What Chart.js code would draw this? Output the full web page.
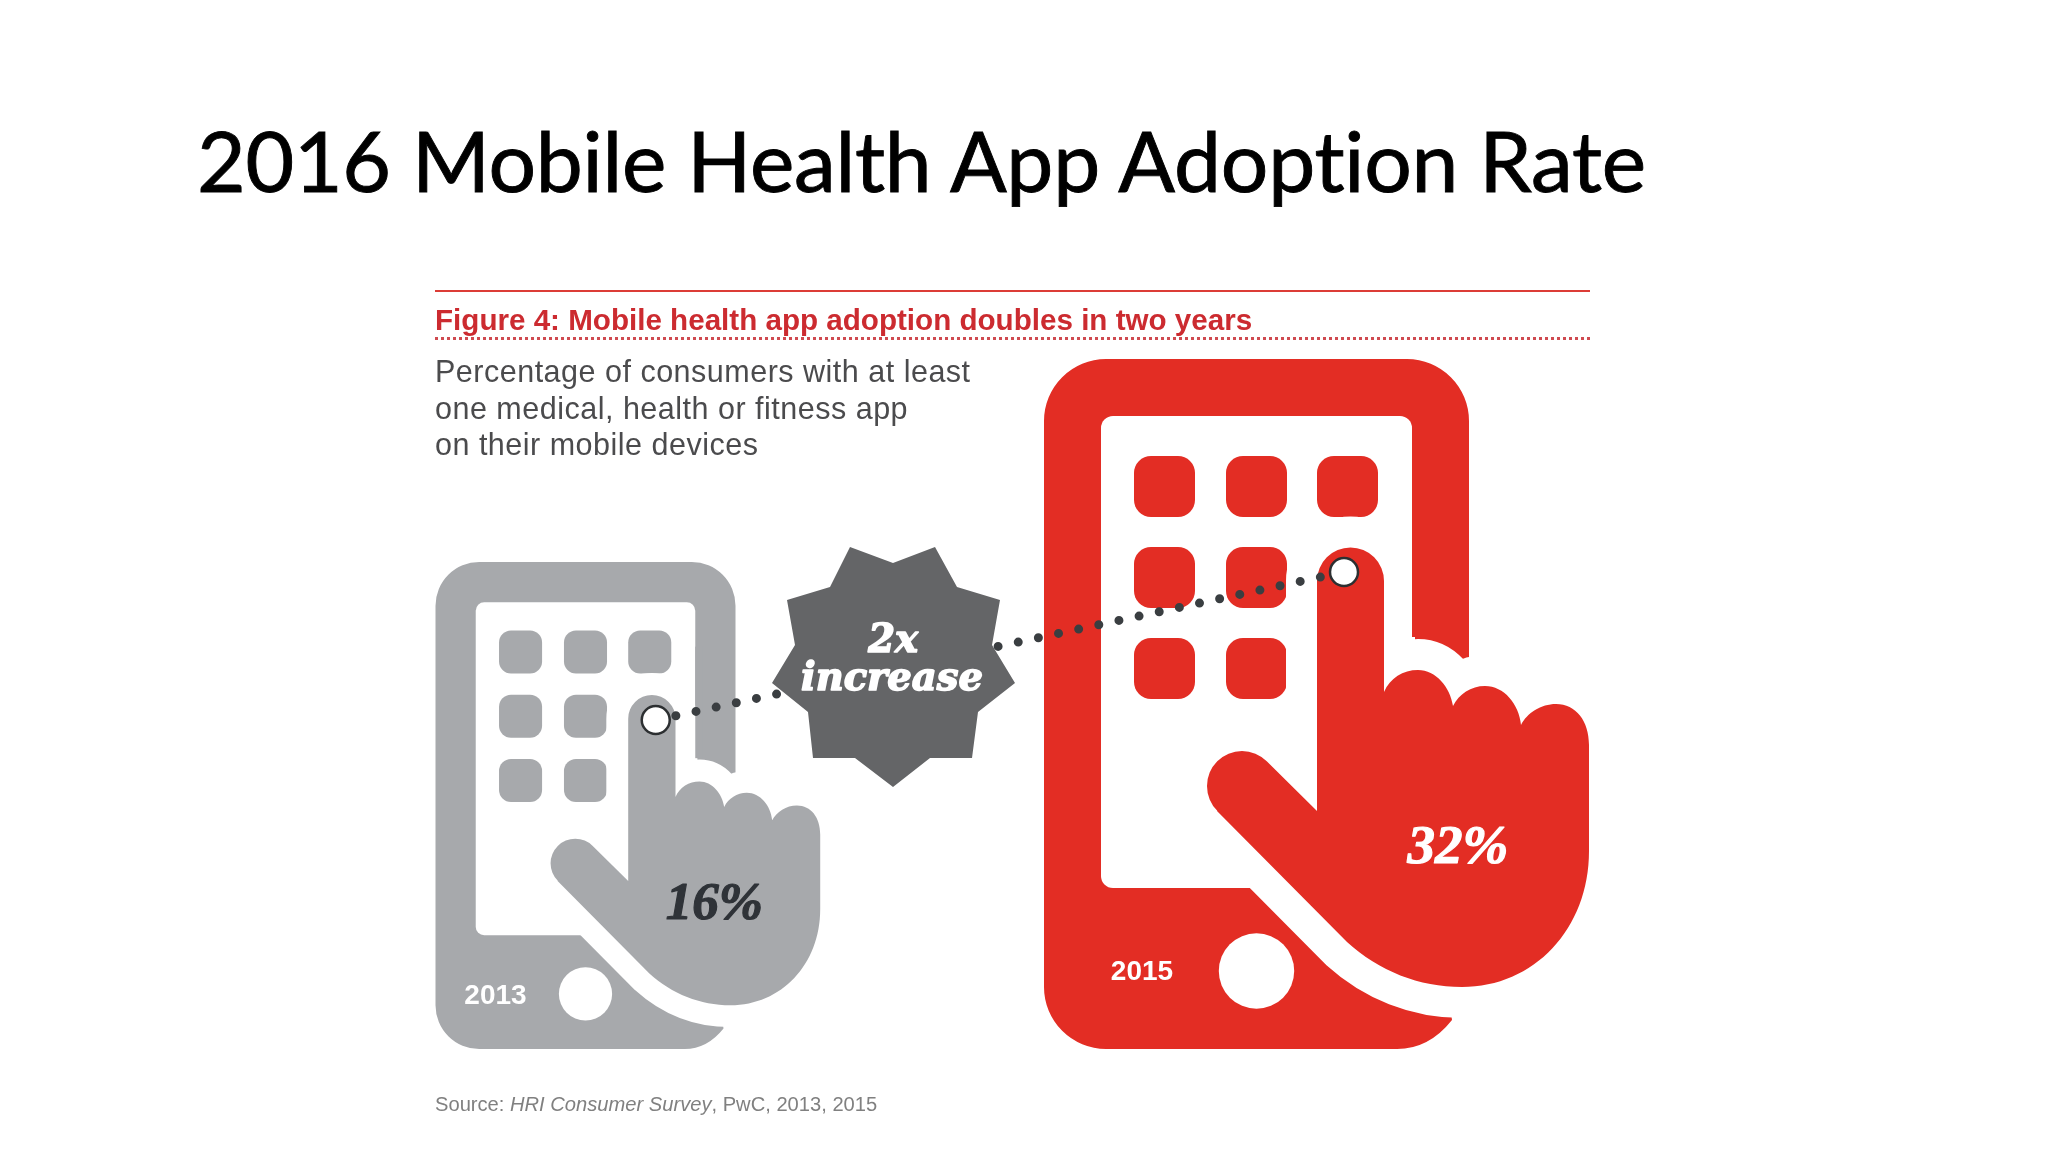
<!DOCTYPE html>
<html>
<head>
<meta charset="utf-8">
<title>2016 Mobile Health App Adoption Rate</title>
<script src="https://cdn.jsdelivr.net/npm/chart.js@4"></script>
<style>
    html, body { margin: 0; padding: 0; background: #fff; }
    #page { position: relative; width: 2048px; height: 1152px; overflow: hidden; }
    #chart { position: absolute; left: 0; top: 0; }
    .txt { position: absolute; white-space: nowrap; font-family: "Liberation Sans", sans-serif; }
    #title { left: 197px; top: 110px; font: 84px/100px Lato, sans-serif; color: #000; letter-spacing: -0.27px; -webkit-text-stroke: 0.9px #000; }
    #rule { position: absolute; left: 435px; top: 290px; width: 1155px; height: 2px; background: #dc3c36; }
    #dots { position: absolute; left: 435px; top: 337px; width: 1155px; height: 0; border-top: 3px dotted #cf4a50; }
    #figure { left: 435px; top: 303px; font-size: 29.6px; line-height: 34px; font-weight: bold; color: #cc2b30; }
    #sub { left: 435px; top: 353px; font-size: 30.5px; line-height: 36.5px; color: #4b4b4d; letter-spacing: 0.5px; }
    #source { left: 435px; top: 1092px; font-size: 20.15px; line-height: 24px; color: #808080; }
</style>
</head>
<body>
<div id="page">
    <canvas id="chart" width="2048" height="1152"></canvas>
    <div id="title" class="txt">2016 Mobile Health App Adoption Rate</div>
    <div id="rule"></div>
    <div id="figure" class="txt">Figure 4: Mobile health app adoption doubles in two years</div>
    <div id="dots"></div>
    <div id="sub" class="txt">Percentage of consumers with at least<br>one medical, health or fitness app<br>on their mobile devices</div>
    <div id="source" class="txt">Source: <i>HRI Consumer Survey</i>, PwC, 2013, 2015</div>
</div>
<script>
const years = ['2013', '2015'];
const adoption = [16, 32];
const badgeLines = ['2x', 'increase'];

// Icon geometry is in units of the big phone, 425 wide and 690 tall.
// Icon area follows the value, so the hidden axis starts below zero.
const ICON_HEIGHT = 690;
const ICON_WIDTH = 425;
const AXIS_MIN = -22.4;
const APP_COLS = [90, 182, 273];
const APP_ROWS = [97, 188, 279];
const iconText = [
    { yearX: 85, yearY: 615, valueX: 395, valueY: 486, tapX: 312, tapY: 224, size: 53, color: '#2f3338' },
    { yearX: 98, yearY: 613, valueX: 414, valueY: 490, tapX: 300, tapY: 213, size: 55, color: '#ffffff' },
];

// Badge outline, tips and valleys in turn.
const badge = [
    [850, 547], [893, 563], [935, 547], [957, 587], [1000, 600], [992, 645], [1015, 683], [978, 712],
    [972, 758], [930, 758], [893, 787], [855, 758], [813, 758], [808, 712], [772, 683], [795, 645],
    [787, 600], [830, 587],
];

function roundedBox(ctx, x, y, w, h, r) {
    ctx.beginPath();
    ctx.roundRect(x, y, w, h, r);
    ctx.fill();
}

function phonePath(ctx) {
    ctx.beginPath();
    ctx.moveTo(62, 0);
    ctx.lineTo(363, 0);
    ctx.arcTo(425, 0, 425, 62, 62);
    ctx.lineTo(425, 340);
    ctx.lineTo(400, 600);
    ctx.lineTo(408, 661);
    ctx.quadraticCurveTo(385, 690, 353, 690);
    ctx.lineTo(62, 690);
    ctx.arcTo(0, 690, 0, 628, 62);
    ctx.lineTo(0, 62);
    ctx.arcTo(0, 0, 62, 0, 62);
    ctx.closePath();
}

function handPath(ctx) {
    ctx.beginPath();
    ctx.moveTo(273, 222);
    ctx.arc(306.5, 222, 33.5, Math.PI, 0);
    ctx.lineTo(340, 333);
    ctx.bezierCurveTo(346, 319, 359, 311, 374, 311);
    ctx.bezierCurveTo(392, 311, 406, 328, 409, 347);
    ctx.bezierCurveTo(415, 335, 427, 327, 441, 327);
    ctx.bezierCurveTo(460, 327, 475, 345, 477, 366);
    ctx.bezierCurveTo(483, 354, 497, 345, 512, 345);
    ctx.bezierCurveTo(532, 345, 545, 362, 545, 386);
    ctx.lineTo(545, 492);
    ctx.bezierCurveTo(545, 570, 490, 628, 418, 628);
    ctx.bezierCurveTo(375, 628, 335, 612, 303, 583);
    ctx.lineTo(173, 452);
    ctx.arc(198, 427, 35, Math.PI * 0.75, Math.PI * 1.75);
    ctx.lineTo(273, 452);
    ctx.closePath();
}

function drawIcon(ctx, color) {
    ctx.fillStyle = color;
    phonePath(ctx);
    ctx.fill();

    ctx.fillStyle = '#fff';
    roundedBox(ctx, 57, 57, 311, 472, 12);
    ctx.beginPath();
    ctx.arc(212.5, 612, 37.7, 0, Math.PI * 2);
    ctx.fill();

    ctx.fillStyle = color;
    APP_ROWS.forEach((rowY, row) => {
        APP_COLS.forEach((colX, col) => {
            if (col === 2 && row > 0) return;
            roundedBox(ctx, colX, rowY, 61, 61, 17);
        });
    });

    handPath(ctx);
    ctx.strokeStyle = '#fff';
    ctx.lineWidth = 62;
    ctx.lineJoin = 'round';
    ctx.stroke();

    // the finger's halo must not bite into the phone's right edge
    ctx.fillRect(368, 120, 10, 158);

    handPath(ctx);
    ctx.fill();
}

// Draws the bars as phones: each bar's top and base set the icon's size.
const phoneIcons = {
    id: 'phoneIcons',
    beforeDatasetDraw(chart, args) {
        const { ctx } = chart;
        const dataset = chart.data.datasets[args.index];
        const placed = args.meta.data.map((bar, i) => {
            const scale = (bar.base - bar.y) / ICON_HEIGHT;
            const left = bar.x - (ICON_WIDTH / 2) * scale;
            return { scale, left, top: bar.y, style: iconText[i], color: dataset.backgroundColor[i] };
        });

        placed.forEach((p) => {
            ctx.save();
            ctx.translate(p.left, p.top);
            ctx.scale(p.scale, p.scale);
            drawIcon(ctx, p.color);
            ctx.restore();
        });

        // dotted connector between the two fingertips
        const taps = placed.map((p) => ({
            x: p.left + p.style.tapX * p.scale,
            y: p.top + p.style.tapY * p.scale,
        }));
        ctx.save();
        ctx.strokeStyle = '#3a3e41';
        ctx.lineWidth = 9;
        ctx.lineCap = 'round';
        ctx.setLineDash([0, 20.6]);
        ctx.beginPath();
        ctx.moveTo(taps[0].x, taps[0].y);
        ctx.lineTo(taps[1].x, taps[1].y);
        ctx.stroke();
        ctx.restore();

        taps.forEach((t) => {
            ctx.beginPath();
            ctx.arc(t.x, t.y, 14, 0, Math.PI * 2);
            ctx.fillStyle = '#fff';
            ctx.fill();
            ctx.lineWidth = 2.5;
            ctx.strokeStyle = '#2c2f31';
            ctx.stroke();
        });

        ctx.fillStyle = '#646567';
        ctx.beginPath();
        badge.forEach(([x, y], i) => (i ? ctx.lineTo(x, y) : ctx.moveTo(x, y)));
        ctx.closePath();
        ctx.fill();

        ctx.textAlign = 'center';
        ctx.textBaseline = 'middle';
        ctx.lineJoin = 'round';
        ctx.fillStyle = '#fff';
        ctx.strokeStyle = '#fff';
        ctx.lineWidth = 1.6;
        ctx.font = 'italic bold 38.5px "DejaVu Serif"';
        ctx.fillText(badgeLines[0], 893, 642);
        ctx.strokeText(badgeLines[0], 893, 642);
        ctx.fillText(badgeLines[1], 892, 680);
        ctx.strokeText(badgeLines[1], 892, 680);

        placed.forEach((p, i) => {
            ctx.fillStyle = '#fff';
            ctx.font = 'bold 28px "Liberation Sans"';
            ctx.fillText(chart.data.labels[i], p.left + p.style.yearX * p.scale, p.top + p.style.yearY * p.scale);

            const valueX = p.left + p.style.valueX * p.scale;
            const valueY = p.top + p.style.valueY * p.scale;
            ctx.fillStyle = p.style.color;
            ctx.strokeStyle = p.style.color;
            ctx.lineWidth = 1.2;
            ctx.font = `italic bold ${p.style.size}px "Liberation Serif"`;
            ctx.fillText(`${adoption[i]}%`, valueX, valueY);
            ctx.strokeText(`${adoption[i]}%`, valueX, valueY);
        });

        return false;
    },
};

new Chart(document.getElementById('chart'), {
    type: 'bar',
    data: {
        labels: years,
        datasets: [{
            data: adoption,
            base: AXIS_MIN,
            backgroundColor: ['#a7a9ac', '#e32d24'],
        }],
    },
    options: {
        responsive: false,
        animation: false,
        devicePixelRatio: 1,
        layout: { padding: { left: 250, right: 456, top: 359, bottom: 103 } },
        plugins: { legend: { display: false }, tooltip: { enabled: false } },
        scales: {
            x: { display: false },
            y: { display: false, min: AXIS_MIN, max: 32 },
        },
    },
    plugins: [phoneIcons],
});
</script>
</body>
</html>
